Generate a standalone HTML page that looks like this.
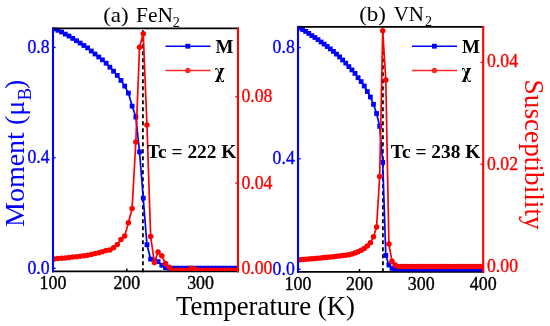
<!DOCTYPE html>
<html><head><meta charset="utf-8"><title>Magnetic moment and susceptibility vs temperature</title>
<style>
html,body{margin:0;padding:0;background:#fff;}
body{width:550px;height:326px;overflow:hidden;}
svg{display:block;font-family:"Liberation Serif","Times New Roman",serif;}
.b{font-weight:bold;}
</style></head><body>
<svg width="550" height="326" viewBox="0 0 550 326">
<rect width="550" height="326" fill="#fff"/>

<g id="panel-a">
<clipPath id="clip-a"><rect x="53" y="27.45" width="185" height="243.64999999999998"/></clipPath>
<line x1="52" y1="271.4" x2="239" y2="271.4" stroke="#000" stroke-width="1.8"/>
<line x1="53" y1="271.4" x2="53" y2="268.5" stroke="#000" stroke-width="1.5"/>
<line x1="126.8" y1="271.4" x2="126.8" y2="268.5" stroke="#000" stroke-width="1.5"/>
<line x1="200.6" y1="271.4" x2="200.6" y2="268.5" stroke="#000" stroke-width="1.5"/>
<line x1="142.9" y1="272.3" x2="142.9" y2="28.45" stroke="#000" stroke-width="1.8" stroke-dasharray="4,3"/>
<g clip-path="url(#clip-a)">
<polyline fill="none" stroke="#0000ff" stroke-width="1.7" stroke-linejoin="round" points="54.2,28.8 57.91,30.3 61.62,32 65.33,34.1 69.04,36.1 72.75,38.4 76.46,40.7 80.17,43.1 83.88,45.5 87.59,47.9 91.3,51 95.01,54 98.72,57 102.43,59.8 106.14,63.2 109.85,67.2 113.56,71.2 117.27,75.4 120.98,80.4 124.69,86.1 128.4,93.1 132.11,106.1 135.82,117 139.53,151.9 143.24,198.1 146.95,244.7 150.66,259.2 154.37,260.5 158.08,261.6 161.79,265.3 165.5,267.6 169.21,268.2 172.92,268.2 176.63,268.2 180.34,268.2 184.05,268.2 187.76,268.2 191.47,268.2 195.18,268.2 198.89,268.2 202.6,268.2 206.31,268.2 210.02,268.2 213.73,268.2 217.44,268.2 221.15,268.2 224.86,268.2 228.57,268.2 232.28,268.2 235.99,268.2"/>
<rect x="51.8" y="26.4" width="4.8" height="4.8" fill="#0000ff"/><rect x="55.51" y="27.9" width="4.8" height="4.8" fill="#0000ff"/><rect x="59.22" y="29.6" width="4.8" height="4.8" fill="#0000ff"/><rect x="62.93" y="31.7" width="4.8" height="4.8" fill="#0000ff"/><rect x="66.64" y="33.7" width="4.8" height="4.8" fill="#0000ff"/><rect x="70.35" y="36" width="4.8" height="4.8" fill="#0000ff"/><rect x="74.06" y="38.3" width="4.8" height="4.8" fill="#0000ff"/><rect x="77.77" y="40.7" width="4.8" height="4.8" fill="#0000ff"/><rect x="81.48" y="43.1" width="4.8" height="4.8" fill="#0000ff"/><rect x="85.19" y="45.5" width="4.8" height="4.8" fill="#0000ff"/><rect x="88.9" y="48.6" width="4.8" height="4.8" fill="#0000ff"/><rect x="92.61" y="51.6" width="4.8" height="4.8" fill="#0000ff"/><rect x="96.32" y="54.6" width="4.8" height="4.8" fill="#0000ff"/><rect x="100.03" y="57.4" width="4.8" height="4.8" fill="#0000ff"/><rect x="103.74" y="60.8" width="4.8" height="4.8" fill="#0000ff"/><rect x="107.45" y="64.8" width="4.8" height="4.8" fill="#0000ff"/><rect x="111.16" y="68.8" width="4.8" height="4.8" fill="#0000ff"/><rect x="114.87" y="73" width="4.8" height="4.8" fill="#0000ff"/><rect x="118.58" y="78" width="4.8" height="4.8" fill="#0000ff"/><rect x="122.29" y="83.7" width="4.8" height="4.8" fill="#0000ff"/><rect x="126" y="90.7" width="4.8" height="4.8" fill="#0000ff"/><rect x="129.71" y="103.7" width="4.8" height="4.8" fill="#0000ff"/><rect x="133.42" y="114.6" width="4.8" height="4.8" fill="#0000ff"/><rect x="137.13" y="149.5" width="4.8" height="4.8" fill="#0000ff"/><rect x="140.84" y="195.7" width="4.8" height="4.8" fill="#0000ff"/><rect x="144.55" y="242.3" width="4.8" height="4.8" fill="#0000ff"/><rect x="148.26" y="256.8" width="4.8" height="4.8" fill="#0000ff"/><rect x="151.97" y="258.1" width="4.8" height="4.8" fill="#0000ff"/><rect x="155.68" y="259.2" width="4.8" height="4.8" fill="#0000ff"/><rect x="159.39" y="262.9" width="4.8" height="4.8" fill="#0000ff"/><rect x="163.1" y="265.2" width="4.8" height="4.8" fill="#0000ff"/><rect x="166.81" y="265.8" width="4.8" height="4.8" fill="#0000ff"/><rect x="170.52" y="265.8" width="4.8" height="4.8" fill="#0000ff"/><rect x="174.23" y="265.8" width="4.8" height="4.8" fill="#0000ff"/><rect x="177.94" y="265.8" width="4.8" height="4.8" fill="#0000ff"/><rect x="181.65" y="265.8" width="4.8" height="4.8" fill="#0000ff"/><rect x="185.36" y="265.8" width="4.8" height="4.8" fill="#0000ff"/><rect x="189.07" y="265.8" width="4.8" height="4.8" fill="#0000ff"/><rect x="192.78" y="265.8" width="4.8" height="4.8" fill="#0000ff"/><rect x="196.49" y="265.8" width="4.8" height="4.8" fill="#0000ff"/><rect x="200.2" y="265.8" width="4.8" height="4.8" fill="#0000ff"/><rect x="203.91" y="265.8" width="4.8" height="4.8" fill="#0000ff"/><rect x="207.62" y="265.8" width="4.8" height="4.8" fill="#0000ff"/><rect x="211.33" y="265.8" width="4.8" height="4.8" fill="#0000ff"/><rect x="215.04" y="265.8" width="4.8" height="4.8" fill="#0000ff"/><rect x="218.75" y="265.8" width="4.8" height="4.8" fill="#0000ff"/><rect x="222.46" y="265.8" width="4.8" height="4.8" fill="#0000ff"/><rect x="226.17" y="265.8" width="4.8" height="4.8" fill="#0000ff"/><rect x="229.88" y="265.8" width="4.8" height="4.8" fill="#0000ff"/><rect x="233.59" y="265.8" width="4.8" height="4.8" fill="#0000ff"/>
<polyline fill="none" stroke="#ff0000" stroke-width="1.7" stroke-linejoin="round" points="54.2,258.9 57.91,258.6 61.62,258.3 65.33,257.9 69.04,257.5 72.75,257.1 76.46,256.8 80.17,256.3 83.88,255.8 87.59,255.2 91.3,254.4 95.01,253.6 98.72,252.8 102.43,251.7 106.14,250.6 109.85,249.9 113.56,247.7 117.27,244.4 120.98,239.6 124.69,235.9 128.4,222.8 132.11,208.5 135.82,142 139.53,47.3 143.24,33.7 146.95,124.9 150.66,236.5 154.37,262.5 158.08,252 161.79,255.8 165.5,263.4 169.21,267.2 172.92,270.2 176.63,270.2 180.34,270.2 184.05,270.2 187.76,270.2 191.47,268.2 195.18,269.2 198.89,270.2 202.6,270.2 206.31,270.2 210.02,270.2 213.73,270.2 217.44,270.2 221.15,270.2 224.86,270.2 228.57,270.2 232.28,270.2 235.99,270.2"/>
<circle cx="54.2" cy="258.9" r="2.75" fill="#ff0000"/><circle cx="57.91" cy="258.6" r="2.75" fill="#ff0000"/><circle cx="61.62" cy="258.3" r="2.75" fill="#ff0000"/><circle cx="65.33" cy="257.9" r="2.75" fill="#ff0000"/><circle cx="69.04" cy="257.5" r="2.75" fill="#ff0000"/><circle cx="72.75" cy="257.1" r="2.75" fill="#ff0000"/><circle cx="76.46" cy="256.8" r="2.75" fill="#ff0000"/><circle cx="80.17" cy="256.3" r="2.75" fill="#ff0000"/><circle cx="83.88" cy="255.8" r="2.75" fill="#ff0000"/><circle cx="87.59" cy="255.2" r="2.75" fill="#ff0000"/><circle cx="91.3" cy="254.4" r="2.75" fill="#ff0000"/><circle cx="95.01" cy="253.6" r="2.75" fill="#ff0000"/><circle cx="98.72" cy="252.8" r="2.75" fill="#ff0000"/><circle cx="102.43" cy="251.7" r="2.75" fill="#ff0000"/><circle cx="106.14" cy="250.6" r="2.75" fill="#ff0000"/><circle cx="109.85" cy="249.9" r="2.75" fill="#ff0000"/><circle cx="113.56" cy="247.7" r="2.75" fill="#ff0000"/><circle cx="117.27" cy="244.4" r="2.75" fill="#ff0000"/><circle cx="120.98" cy="239.6" r="2.75" fill="#ff0000"/><circle cx="124.69" cy="235.9" r="2.75" fill="#ff0000"/><circle cx="128.4" cy="222.8" r="2.75" fill="#ff0000"/><circle cx="132.11" cy="208.5" r="2.75" fill="#ff0000"/><circle cx="135.82" cy="142" r="2.75" fill="#ff0000"/><circle cx="139.53" cy="47.3" r="2.75" fill="#ff0000"/><circle cx="143.24" cy="33.7" r="2.75" fill="#ff0000"/><circle cx="146.95" cy="124.9" r="2.75" fill="#ff0000"/><circle cx="150.66" cy="236.5" r="2.75" fill="#ff0000"/><circle cx="154.37" cy="262.5" r="2.75" fill="#ff0000"/><circle cx="158.08" cy="252" r="2.75" fill="#ff0000"/><circle cx="161.79" cy="255.8" r="2.75" fill="#ff0000"/><circle cx="165.5" cy="263.4" r="2.75" fill="#ff0000"/><circle cx="169.21" cy="267.2" r="2.75" fill="#ff0000"/><circle cx="172.92" cy="270.2" r="2.75" fill="#ff0000"/><circle cx="176.63" cy="270.2" r="2.75" fill="#ff0000"/><circle cx="180.34" cy="270.2" r="2.75" fill="#ff0000"/><circle cx="184.05" cy="270.2" r="2.75" fill="#ff0000"/><circle cx="187.76" cy="270.2" r="2.75" fill="#ff0000"/><circle cx="191.47" cy="268.2" r="2.75" fill="#ff0000"/><circle cx="195.18" cy="269.2" r="2.75" fill="#ff0000"/><circle cx="198.89" cy="270.2" r="2.75" fill="#ff0000"/><circle cx="202.6" cy="270.2" r="2.75" fill="#ff0000"/><circle cx="206.31" cy="270.2" r="2.75" fill="#ff0000"/><circle cx="210.02" cy="270.2" r="2.75" fill="#ff0000"/><circle cx="213.73" cy="270.2" r="2.75" fill="#ff0000"/><circle cx="217.44" cy="270.2" r="2.75" fill="#ff0000"/><circle cx="221.15" cy="270.2" r="2.75" fill="#ff0000"/><circle cx="224.86" cy="270.2" r="2.75" fill="#ff0000"/><circle cx="228.57" cy="270.2" r="2.75" fill="#ff0000"/><circle cx="232.28" cy="270.2" r="2.75" fill="#ff0000"/><circle cx="235.99" cy="270.2" r="2.75" fill="#ff0000"/>
</g>
<line x1="52" y1="28.45" x2="239" y2="28.45" stroke="#000" stroke-width="1.8"/>
<line x1="53" y1="27.55" x2="53" y2="272.4" stroke="#0000ff" stroke-width="2.1"/>
<line x1="238" y1="27.55" x2="238" y2="272.4" stroke="#ff0000" stroke-width="2.1"/>
<line x1="53" y1="47.4" x2="55.6" y2="47.4" stroke="#0000ff" stroke-width="1.4"/>
<line x1="53" y1="157.7" x2="55.6" y2="157.7" stroke="#0000ff" stroke-width="1.4"/>
<line x1="53" y1="268.3" x2="55.6" y2="268.3" stroke="#0000ff" stroke-width="1.4"/>
<line x1="238" y1="96.8" x2="235.4" y2="96.8" stroke="#ff0000" stroke-width="1.4"/>
<line x1="238" y1="183.1" x2="235.4" y2="183.1" stroke="#ff0000" stroke-width="1.4"/>
<line x1="238" y1="269.3" x2="235.4" y2="269.3" stroke="#ff0000" stroke-width="1.4"/>
</g>
<g id="panel-b">
<clipPath id="clip-b"><rect x="298" y="25.85" width="185.2" height="245.65"/></clipPath>
<line x1="297" y1="271.8" x2="484.2" y2="271.8" stroke="#000" stroke-width="1.8"/>
<line x1="298" y1="271.8" x2="298" y2="268.90000000000003" stroke="#000" stroke-width="1.5"/>
<line x1="359.5" y1="271.8" x2="359.5" y2="268.90000000000003" stroke="#000" stroke-width="1.5"/>
<line x1="421.2" y1="271.8" x2="421.2" y2="268.90000000000003" stroke="#000" stroke-width="1.5"/>
<line x1="483.2" y1="271.8" x2="483.2" y2="268.90000000000003" stroke="#000" stroke-width="1.5"/>
<line x1="382.9" y1="272.3" x2="382.9" y2="26.85" stroke="#000" stroke-width="1.8" stroke-dasharray="4,3"/>
<g clip-path="url(#clip-b)">
<polyline fill="none" stroke="#0000ff" stroke-width="1.7" stroke-linejoin="round" points="299.5,27.8 302.58,29.5 305.67,31.4 308.75,33.4 311.83,35.6 314.92,37.5 318,39.6 321.08,42 324.16,44.1 327.25,46.5 330.33,48.9 333.41,51.4 336.5,54.1 339.58,56.9 342.66,60 345.75,63.1 348.83,66.6 351.91,69.9 354.99,73.4 358.08,77.7 361.16,81.6 364.24,86 367.33,91.5 370.41,97 373.49,104.3 376.57,113.5 379.66,126.3 382.74,162.5 385.82,255.5 388.91,265 391.99,268.4 395.07,269.2 398.16,269.2 401.24,269.2 404.32,269.2 407.4,269.2 410.49,269.2 413.57,269.2 416.65,269.2 419.74,269.2 422.82,269.2 425.9,269.2 428.99,269.2 432.07,269.2 435.15,269.2 438.24,269.2 441.32,269.2 444.4,269.2 447.48,269.2 450.57,269.2 453.65,269.2 456.73,269.2 459.82,269.2 462.9,269.2 465.98,269.2 469.06,269.2 472.15,269.2 475.23,269.2 478.31,269.2 481.4,269.2"/>
<rect x="297.1" y="25.4" width="4.8" height="4.8" fill="#0000ff"/><rect x="300.18" y="27.1" width="4.8" height="4.8" fill="#0000ff"/><rect x="303.27" y="29" width="4.8" height="4.8" fill="#0000ff"/><rect x="306.35" y="31" width="4.8" height="4.8" fill="#0000ff"/><rect x="309.43" y="33.2" width="4.8" height="4.8" fill="#0000ff"/><rect x="312.52" y="35.1" width="4.8" height="4.8" fill="#0000ff"/><rect x="315.6" y="37.2" width="4.8" height="4.8" fill="#0000ff"/><rect x="318.68" y="39.6" width="4.8" height="4.8" fill="#0000ff"/><rect x="321.76" y="41.7" width="4.8" height="4.8" fill="#0000ff"/><rect x="324.85" y="44.1" width="4.8" height="4.8" fill="#0000ff"/><rect x="327.93" y="46.5" width="4.8" height="4.8" fill="#0000ff"/><rect x="331.01" y="49" width="4.8" height="4.8" fill="#0000ff"/><rect x="334.1" y="51.7" width="4.8" height="4.8" fill="#0000ff"/><rect x="337.18" y="54.5" width="4.8" height="4.8" fill="#0000ff"/><rect x="340.26" y="57.6" width="4.8" height="4.8" fill="#0000ff"/><rect x="343.35" y="60.7" width="4.8" height="4.8" fill="#0000ff"/><rect x="346.43" y="64.2" width="4.8" height="4.8" fill="#0000ff"/><rect x="349.51" y="67.5" width="4.8" height="4.8" fill="#0000ff"/><rect x="352.59" y="71" width="4.8" height="4.8" fill="#0000ff"/><rect x="355.68" y="75.3" width="4.8" height="4.8" fill="#0000ff"/><rect x="358.76" y="79.2" width="4.8" height="4.8" fill="#0000ff"/><rect x="361.84" y="83.6" width="4.8" height="4.8" fill="#0000ff"/><rect x="364.93" y="89.1" width="4.8" height="4.8" fill="#0000ff"/><rect x="368.01" y="94.6" width="4.8" height="4.8" fill="#0000ff"/><rect x="371.09" y="101.9" width="4.8" height="4.8" fill="#0000ff"/><rect x="374.18" y="111.1" width="4.8" height="4.8" fill="#0000ff"/><rect x="377.26" y="123.9" width="4.8" height="4.8" fill="#0000ff"/><rect x="380.34" y="160.1" width="4.8" height="4.8" fill="#0000ff"/><rect x="383.42" y="253.1" width="4.8" height="4.8" fill="#0000ff"/><rect x="386.51" y="262.6" width="4.8" height="4.8" fill="#0000ff"/><rect x="389.59" y="266" width="4.8" height="4.8" fill="#0000ff"/><rect x="392.67" y="266.8" width="4.8" height="4.8" fill="#0000ff"/><rect x="395.76" y="266.8" width="4.8" height="4.8" fill="#0000ff"/><rect x="398.84" y="266.8" width="4.8" height="4.8" fill="#0000ff"/><rect x="401.92" y="266.8" width="4.8" height="4.8" fill="#0000ff"/><rect x="405" y="266.8" width="4.8" height="4.8" fill="#0000ff"/><rect x="408.09" y="266.8" width="4.8" height="4.8" fill="#0000ff"/><rect x="411.17" y="266.8" width="4.8" height="4.8" fill="#0000ff"/><rect x="414.25" y="266.8" width="4.8" height="4.8" fill="#0000ff"/><rect x="417.34" y="266.8" width="4.8" height="4.8" fill="#0000ff"/><rect x="420.42" y="266.8" width="4.8" height="4.8" fill="#0000ff"/><rect x="423.5" y="266.8" width="4.8" height="4.8" fill="#0000ff"/><rect x="426.59" y="266.8" width="4.8" height="4.8" fill="#0000ff"/><rect x="429.67" y="266.8" width="4.8" height="4.8" fill="#0000ff"/><rect x="432.75" y="266.8" width="4.8" height="4.8" fill="#0000ff"/><rect x="435.84" y="266.8" width="4.8" height="4.8" fill="#0000ff"/><rect x="438.92" y="266.8" width="4.8" height="4.8" fill="#0000ff"/><rect x="442" y="266.8" width="4.8" height="4.8" fill="#0000ff"/><rect x="445.08" y="266.8" width="4.8" height="4.8" fill="#0000ff"/><rect x="448.17" y="266.8" width="4.8" height="4.8" fill="#0000ff"/><rect x="451.25" y="266.8" width="4.8" height="4.8" fill="#0000ff"/><rect x="454.33" y="266.8" width="4.8" height="4.8" fill="#0000ff"/><rect x="457.42" y="266.8" width="4.8" height="4.8" fill="#0000ff"/><rect x="460.5" y="266.8" width="4.8" height="4.8" fill="#0000ff"/><rect x="463.58" y="266.8" width="4.8" height="4.8" fill="#0000ff"/><rect x="466.67" y="266.8" width="4.8" height="4.8" fill="#0000ff"/><rect x="469.75" y="266.8" width="4.8" height="4.8" fill="#0000ff"/><rect x="472.83" y="266.8" width="4.8" height="4.8" fill="#0000ff"/><rect x="475.91" y="266.8" width="4.8" height="4.8" fill="#0000ff"/><rect x="479" y="266.8" width="4.8" height="4.8" fill="#0000ff"/>
<polyline fill="none" stroke="#ff0000" stroke-width="1.7" stroke-linejoin="round" points="299.5,259.8 302.58,259.55 305.67,259.3 308.75,259 311.83,258.7 314.92,258.45 318,258.2 321.08,257.9 324.16,257.6 327.25,257.3 330.33,257 333.41,256.65 336.5,256.3 339.58,255.95 342.66,255.6 345.75,255.2 348.83,254.7 351.91,254 354.99,253 358.08,251.8 361.16,250.3 364.24,248.5 367.33,246 370.41,242.7 373.49,236.8 376.57,227.1 379.66,176.5 382.74,30.8 385.82,80 388.91,244 391.99,261.2 395.07,265 398.16,266.6 401.24,266.6 404.32,266.6 407.4,266.6 410.49,266.6 413.57,266.6 416.65,266.6 419.74,266.6 422.82,266.6 425.9,266.6 428.99,266.6 432.07,266.6 435.15,266.6 438.24,266.6 441.32,266.6 444.4,266.6 447.48,266.6 450.57,266.6 453.65,266.6 456.73,266.6 459.82,266.6 462.9,266.6 465.98,266.6 469.06,266.6 472.15,266.6 475.23,266.6 478.31,266.6 481.4,266.6"/>
<circle cx="299.5" cy="259.8" r="2.75" fill="#ff0000"/><circle cx="302.58" cy="259.55" r="2.75" fill="#ff0000"/><circle cx="305.67" cy="259.3" r="2.75" fill="#ff0000"/><circle cx="308.75" cy="259" r="2.75" fill="#ff0000"/><circle cx="311.83" cy="258.7" r="2.75" fill="#ff0000"/><circle cx="314.92" cy="258.45" r="2.75" fill="#ff0000"/><circle cx="318" cy="258.2" r="2.75" fill="#ff0000"/><circle cx="321.08" cy="257.9" r="2.75" fill="#ff0000"/><circle cx="324.16" cy="257.6" r="2.75" fill="#ff0000"/><circle cx="327.25" cy="257.3" r="2.75" fill="#ff0000"/><circle cx="330.33" cy="257" r="2.75" fill="#ff0000"/><circle cx="333.41" cy="256.65" r="2.75" fill="#ff0000"/><circle cx="336.5" cy="256.3" r="2.75" fill="#ff0000"/><circle cx="339.58" cy="255.95" r="2.75" fill="#ff0000"/><circle cx="342.66" cy="255.6" r="2.75" fill="#ff0000"/><circle cx="345.75" cy="255.2" r="2.75" fill="#ff0000"/><circle cx="348.83" cy="254.7" r="2.75" fill="#ff0000"/><circle cx="351.91" cy="254" r="2.75" fill="#ff0000"/><circle cx="354.99" cy="253" r="2.75" fill="#ff0000"/><circle cx="358.08" cy="251.8" r="2.75" fill="#ff0000"/><circle cx="361.16" cy="250.3" r="2.75" fill="#ff0000"/><circle cx="364.24" cy="248.5" r="2.75" fill="#ff0000"/><circle cx="367.33" cy="246" r="2.75" fill="#ff0000"/><circle cx="370.41" cy="242.7" r="2.75" fill="#ff0000"/><circle cx="373.49" cy="236.8" r="2.75" fill="#ff0000"/><circle cx="376.57" cy="227.1" r="2.75" fill="#ff0000"/><circle cx="379.66" cy="176.5" r="2.75" fill="#ff0000"/><circle cx="382.74" cy="30.8" r="2.75" fill="#ff0000"/><circle cx="385.82" cy="80" r="2.75" fill="#ff0000"/><circle cx="388.91" cy="244" r="2.75" fill="#ff0000"/><circle cx="391.99" cy="261.2" r="2.75" fill="#ff0000"/><circle cx="395.07" cy="265" r="2.75" fill="#ff0000"/><circle cx="398.16" cy="266.6" r="2.75" fill="#ff0000"/><circle cx="401.24" cy="266.6" r="2.75" fill="#ff0000"/><circle cx="404.32" cy="266.6" r="2.75" fill="#ff0000"/><circle cx="407.4" cy="266.6" r="2.75" fill="#ff0000"/><circle cx="410.49" cy="266.6" r="2.75" fill="#ff0000"/><circle cx="413.57" cy="266.6" r="2.75" fill="#ff0000"/><circle cx="416.65" cy="266.6" r="2.75" fill="#ff0000"/><circle cx="419.74" cy="266.6" r="2.75" fill="#ff0000"/><circle cx="422.82" cy="266.6" r="2.75" fill="#ff0000"/><circle cx="425.9" cy="266.6" r="2.75" fill="#ff0000"/><circle cx="428.99" cy="266.6" r="2.75" fill="#ff0000"/><circle cx="432.07" cy="266.6" r="2.75" fill="#ff0000"/><circle cx="435.15" cy="266.6" r="2.75" fill="#ff0000"/><circle cx="438.24" cy="266.6" r="2.75" fill="#ff0000"/><circle cx="441.32" cy="266.6" r="2.75" fill="#ff0000"/><circle cx="444.4" cy="266.6" r="2.75" fill="#ff0000"/><circle cx="447.48" cy="266.6" r="2.75" fill="#ff0000"/><circle cx="450.57" cy="266.6" r="2.75" fill="#ff0000"/><circle cx="453.65" cy="266.6" r="2.75" fill="#ff0000"/><circle cx="456.73" cy="266.6" r="2.75" fill="#ff0000"/><circle cx="459.82" cy="266.6" r="2.75" fill="#ff0000"/><circle cx="462.9" cy="266.6" r="2.75" fill="#ff0000"/><circle cx="465.98" cy="266.6" r="2.75" fill="#ff0000"/><circle cx="469.06" cy="266.6" r="2.75" fill="#ff0000"/><circle cx="472.15" cy="266.6" r="2.75" fill="#ff0000"/><circle cx="475.23" cy="266.6" r="2.75" fill="#ff0000"/><circle cx="478.31" cy="266.6" r="2.75" fill="#ff0000"/><circle cx="481.4" cy="266.6" r="2.75" fill="#ff0000"/>
</g>
<line x1="297" y1="26.85" x2="484.2" y2="26.85" stroke="#000" stroke-width="1.8"/>
<line x1="298" y1="25.950000000000003" x2="298" y2="272.8" stroke="#0000ff" stroke-width="2.1"/>
<line x1="483.2" y1="25.950000000000003" x2="483.2" y2="272.8" stroke="#ff0000" stroke-width="2.1"/>
<line x1="298" y1="47.6" x2="300.6" y2="47.6" stroke="#0000ff" stroke-width="1.4"/>
<line x1="298" y1="158.8" x2="300.6" y2="158.8" stroke="#0000ff" stroke-width="1.4"/>
<line x1="298" y1="269.2" x2="300.6" y2="269.2" stroke="#0000ff" stroke-width="1.4"/>
<line x1="483.2" y1="62.4" x2="480.59999999999997" y2="62.4" stroke="#ff0000" stroke-width="1.4"/>
<line x1="483.2" y1="164.3" x2="480.59999999999997" y2="164.3" stroke="#ff0000" stroke-width="1.4"/>
<line x1="483.2" y1="266.2" x2="480.59999999999997" y2="266.2" stroke="#ff0000" stroke-width="1.4"/>
</g>
<text transform="translate(103.2,22.2) scale(1,0.92)" font-size="23">(a)</text>
<text y="22.2" font-size="21.4"><tspan x="136.1">FeN</tspan><tspan x="172.7" dy="5" font-size="14.2">2</tspan></text>
<text transform="translate(359.2,20.9) scale(1,0.92)" font-size="23">(b)</text>
<text y="20.9" font-size="21"><tspan x="393.7">VN</tspan><tspan x="425.1" dy="4.7" font-size="14">2</tspan></text>
<text transform="translate(49.6,52.8) scale(0.95,1)" font-size="18.7" fill="#0000ff" text-anchor="end" stroke="#0000ff" stroke-width="0.35">0.8</text>
<text transform="translate(49.6,163.1) scale(0.95,1)" font-size="18.7" fill="#0000ff" text-anchor="end" stroke="#0000ff" stroke-width="0.35">0.4</text>
<text transform="translate(49.6,273.5) scale(0.95,1)" font-size="18.7" fill="#0000ff" text-anchor="end" stroke="#0000ff" stroke-width="0.35">0.0</text>
<text transform="translate(241.4,102.1) scale(0.95,1)" font-size="18.7" fill="#ff0000" text-anchor="start" stroke="#ff0000" stroke-width="0.35">0.08</text>
<text transform="translate(241.4,188.5) scale(0.95,1)" font-size="18.7" fill="#ff0000" text-anchor="start" stroke="#ff0000" stroke-width="0.35">0.04</text>
<text transform="translate(241.4,274.3) scale(0.95,1)" font-size="18.7" fill="#ff0000" text-anchor="start" stroke="#ff0000" stroke-width="0.35">0.00</text>
<text transform="translate(294.8,53.1) scale(0.95,1)" font-size="18.7" fill="#0000ff" text-anchor="end" stroke="#0000ff" stroke-width="0.35">0.8</text>
<text transform="translate(294.8,164.1) scale(0.95,1)" font-size="18.7" fill="#0000ff" text-anchor="end" stroke="#0000ff" stroke-width="0.35">0.4</text>
<text transform="translate(294.8,274.7) scale(0.95,1)" font-size="18.7" fill="#0000ff" text-anchor="end" stroke="#0000ff" stroke-width="0.35">0.0</text>
<text transform="translate(487.0,67.1) scale(0.95,1)" font-size="18.7" fill="#ff0000" text-anchor="start" stroke="#ff0000" stroke-width="0.35">0.04</text>
<text transform="translate(487.0,169.6) scale(0.95,1)" font-size="18.7" fill="#ff0000" text-anchor="start" stroke="#ff0000" stroke-width="0.35">0.02</text>
<text transform="translate(487.0,271.7) scale(0.95,1)" font-size="18.7" fill="#ff0000" text-anchor="start" stroke="#ff0000" stroke-width="0.35">0.00</text>
<text x="53" y="289.2" font-size="17.9" fill="#000" text-anchor="middle" stroke="#000" stroke-width="0.35">100</text>
<text x="126.8" y="289.2" font-size="17.9" fill="#000" text-anchor="middle" stroke="#000" stroke-width="0.35">200</text>
<text x="200.6" y="289.2" font-size="17.9" fill="#000" text-anchor="middle" stroke="#000" stroke-width="0.35">300</text>
<text x="298" y="289.8" font-size="17.9" fill="#000" text-anchor="middle" stroke="#000" stroke-width="0.35">100</text>
<text x="359.5" y="289.8" font-size="17.9" fill="#000" text-anchor="middle" stroke="#000" stroke-width="0.35">200</text>
<text x="421.2" y="289.8" font-size="17.9" fill="#000" text-anchor="middle" stroke="#000" stroke-width="0.35">300</text>
<text x="483.2" y="289.8" font-size="17.9" fill="#000" text-anchor="middle" stroke="#000" stroke-width="0.35">400</text>
<text x="176" y="315.3" font-size="28" fill="#000" text-anchor="start" textLength="179" lengthAdjust="spacingAndGlyphs">Temperature (K)</text>
<text transform="translate(24,227) rotate(-90)" font-size="28" fill="#0000ff">Moment (μ<tspan font-size="18.5" dy="6.5" dx="0.5">B</tspan><tspan dy="-6.5" dx="-1">)</tspan></text>
<text transform="translate(524.6,79.6) rotate(90)" font-size="28" fill="#ff0000" textLength="150" lengthAdjust="spacingAndGlyphs">Susceptibility</text>
<text x="146.9" y="157.5" font-size="19.4" fill="#000" text-anchor="start" class="b">Tc = 222 K</text>
<text x="390.8" y="157.5" font-size="19.4" fill="#000" text-anchor="start" class="b">Tc = 238 K</text>
<line x1="165.5" y1="46.2" x2="210.6" y2="46.2" stroke="#0000ff" stroke-width="1.4"/>
<rect x="185.4" y="43.8" width="4.8" height="4.8" fill="#0000ff"/>
<line x1="165.5" y1="70.5" x2="210.6" y2="70.5" stroke="#ff2a2a" stroke-width="1.4"/>
<circle cx="187.8" cy="70.5" r="2.7" fill="#ff2a2a"/>
<text x="215.4" y="53" font-size="19" fill="#000" text-anchor="start" class="b">M</text>
<text transform="translate(214.8,77.6) scale(0.84,1)" font-size="18" font-weight="bold" font-family="DejaVu Serif,serif">χ</text>
<line x1="412" y1="46.2" x2="457" y2="46.2" stroke="#0000ff" stroke-width="1.4"/>
<rect x="432.0" y="43.8" width="4.8" height="4.8" fill="#0000ff"/>
<line x1="412" y1="70.5" x2="457" y2="70.5" stroke="#ff2a2a" stroke-width="1.4"/>
<circle cx="434.4" cy="70.5" r="2.7" fill="#ff2a2a"/>
<text x="462.1" y="53" font-size="19" fill="#000" text-anchor="start" class="b">M</text>
<text transform="translate(461.5,77.6) scale(0.84,1)" font-size="18" font-weight="bold" font-family="DejaVu Serif,serif">χ</text>
</svg>
</body></html>
